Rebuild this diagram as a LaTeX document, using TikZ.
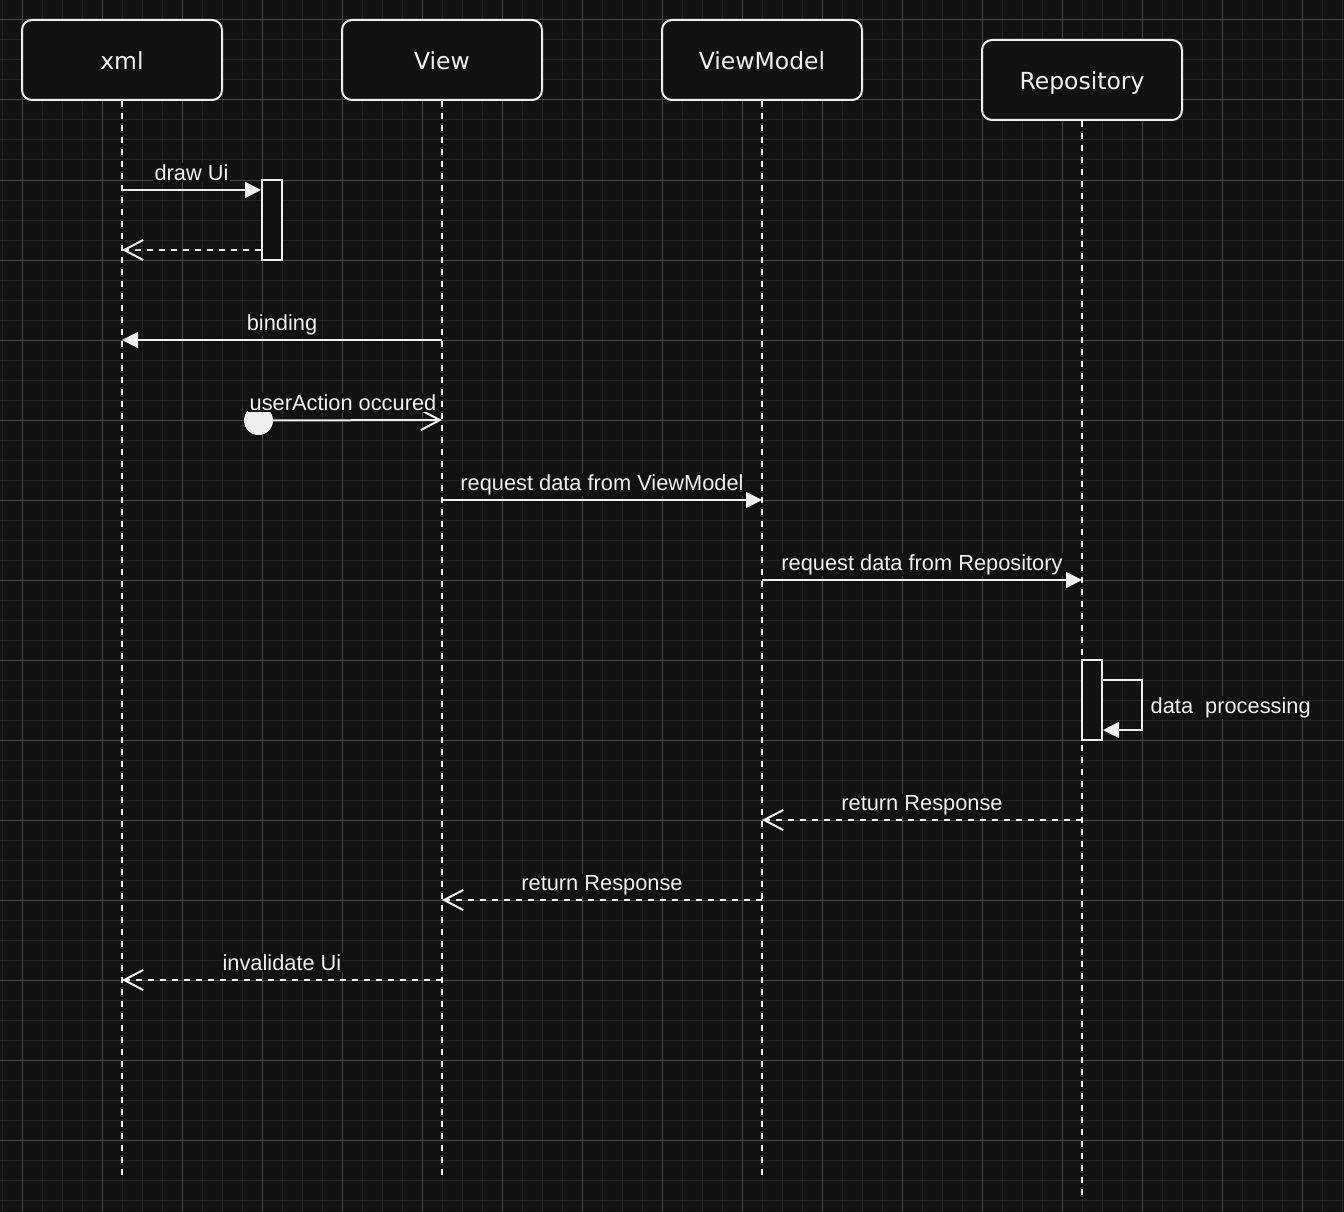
\documentclass[tikz,border=0pt]{standalone}
\usepackage{fontspec}
\setmainfont{Liberation Sans}
\newfontfamily\boxfont{DejaVu Sans}
\usetikzlibrary{arrows.meta}
\definecolor{bg}{HTML}{121212}
\definecolor{fg}{HTML}{F0F0F0}
\definecolor{gridminor}{HTML}{232323}
\definecolor{gridmajor}{HTML}{464646}
\begin{document}
\begin{tikzpicture}[x=1pt,y=-1pt,
 actor/.style={draw=fg, fill=bg, line width=2pt, rounded corners=10pt, minimum width=200pt, minimum height=80pt, inner sep=0pt, text=fg, text height=20pt, text depth=0pt, font=\boxfont\fontsize{23.5}{28}\selectfont},
 lifeline/.style={draw=fg, line width=2pt, dash pattern=on 6pt off 6pt},
 actbox/.style={draw=fg, fill=bg, line width=2pt, minimum width=20pt, minimum height=80pt, inner sep=0pt},
 msg/.style={draw=fg, line width=2pt, -{Triangle[length=16pt,width=16pt]}},
 reply/.style={draw=fg, line width=2pt, dash pattern=on 6pt off 6pt, -{Straight Barb[length=19pt,width=20pt]}},
 openmsg/.style={draw=fg, line width=2pt, -{Straight Barb[length=19pt,width=20pt]}},
 lbl/.style={text=fg, fill=bg, inner sep=1.5pt, font=\fontsize{21.8}{26}\selectfont, anchor=base},
 minorline/.style={draw=gridminor, line width=1pt},
 majorline/.style={draw=gridmajor, line width=1pt},
]
\useasboundingbox (0,0) rectangle (1344,1212);
\fill[bg] (0,0) rectangle (1344,1212);
% grid
\foreach \x in {2,22,...,1342} \draw[minorline] (\x,0) -- (\x,1212);
\foreach \y in {0,20,...,1200} \draw[minorline] (0,\y) -- (1344,\y);
\foreach \x in {22,102,...,1302} \draw[majorline] (\x,0) -- (\x,1212);
\foreach \y in {20,100,...,1140} \draw[majorline] (0,\y) -- (1344,\y);

% actors
\node[actor] (xml) at (122,60) {xml};
\node[actor] (view) at (442,60) {View};
\node[actor] (vm) at (762,60) {ViewModel};
\node[actor] (repo) at (1082,80) {Repository};

% lifeline ends
\coordinate (xmlend) at (122,1175);
\coordinate (viewend) at (442,1175);
\coordinate (vmend) at (762,1175);
\coordinate (repoend) at (1082,1195);
\draw[lifeline] (xml.south) -- (xmlend);
\draw[lifeline] (view.south) -- (viewend);
\draw[lifeline] (vm.south) -- (vmend);
\draw[lifeline] (repo.south) -- (repoend);

% activation boxes
\node[actbox] (act1) at (272,220) {};
\node[actbox] (act2) at (1092,700) {};

% message points
\coordinate (m1) at (122,190);
\coordinate (r1) at (122,250);
\coordinate (b1) at (442,340);
\coordinate (b2) at (122,340);
\coordinate (u2) at (442,420);
\coordinate (q1) at (442,500);
\coordinate (q2) at (762,500);
\coordinate (p1) at (762,580);
\coordinate (p2) at (1082,580);
\coordinate (loopA) at (1142,680);
\coordinate (loopB) at (1142,730);
\coordinate (s1) at (1082,820);
\coordinate (s2) at (762,820);
\coordinate (t1) at (762,900);
\coordinate (t2) at (442,900);
\coordinate (v1) at (442,980);
\coordinate (v2) at (122,980);

\draw[msg] (m1) -- (act1.west |- m1) node[midway, lbl, yshift=10pt] (l1) {draw Ui};
\draw[reply] (act1.west |- r1) -- (r1);
\draw[msg] (b1) -- (b2) node[midway, lbl, yshift=10pt] (l2) {binding};
\node[circle, fill=fg, minimum size=29pt, inner sep=0pt] (start) at (258.5,420.5) {};
\draw[openmsg] (start.center) -- (u2);
\node[lbl] (l3) at (343,410) {userAction occured};
\draw[msg] (q1) -- (q2) node[midway, lbl, yshift=10pt] (l4) {request data from ViewModel};
\draw[msg] (p1) -- (p2) node[midway, lbl, yshift=10pt] (l5) {request data from Repository};
\draw[msg] (act2.east |- loopA) -- (loopA) -- (loopB) -- (act2.east |- loopB);
\node[lbl, anchor=base west] (l6) at (1149,713) {data\ \ processing};
\draw[reply] (s1) -- (s2) node[midway, lbl, yshift=10pt] (l7) {return Response};
\draw[reply] (t1) -- (t2) node[midway, lbl, yshift=10pt] (l8) {return Response};
\draw[reply] (v1) -- (v2) node[midway, lbl, yshift=10pt] (l9) {invalidate Ui};
\end{tikzpicture}
\end{document}
